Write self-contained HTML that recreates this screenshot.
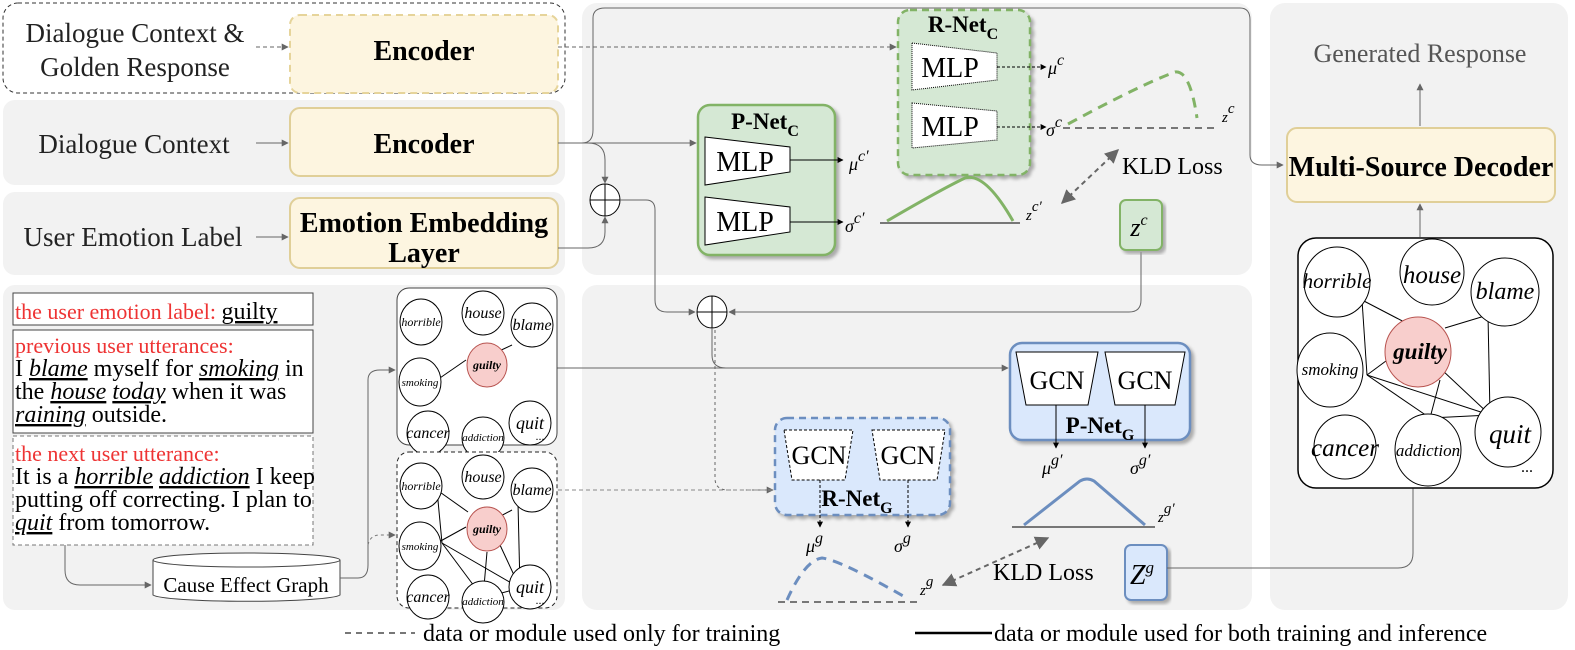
<!DOCTYPE html>
<html><head><meta charset="utf-8"><style>
body{margin:0;background:#fff}
svg{display:block}
</style></head><body>
<svg width="1575" height="650" viewBox="0 0 1575 650" xmlns="http://www.w3.org/2000/svg" font-family="'Liberation Serif', 'DejaVu Serif', serif">
<defs>
<marker id="a" viewBox="0 0 10 10" refX="9" refY="5" markerWidth="7" markerHeight="7" orient="auto-start-reverse"><path d="M0,0L10,5L0,10z" fill="#666"/></marker>
<marker id="k" viewBox="0 0 10 10" refX="9" refY="5" markerWidth="6" markerHeight="6" orient="auto"><path d="M0,0L10,5L0,10z" fill="#000"/></marker>
<filter id="sh"><feDropShadow dx="3" dy="3" stdDeviation="1.5" flood-color="#999" flood-opacity="0.8"/></filter>
</defs>
<rect x="3" y="3" width="562" height="90" rx="15" fill="#fff" stroke="#333" stroke-dasharray="4,3"/>
<rect x="3" y="100" width="562" height="85" rx="12" fill="#f2f2f2"/>
<rect x="3" y="192" width="562" height="83" rx="12" fill="#f2f2f2"/>
<rect x="3" y="285" width="562" height="325" rx="12" fill="#f2f2f2"/>
<rect x="582" y="3" width="670" height="272" rx="15" fill="#f2f2f2"/>
<rect x="582" y="285" width="670" height="325" rx="15" fill="#f2f2f2"/>
<rect x="1270" y="3" width="298" height="607" rx="15" fill="#f2f2f2"/>

<g font-size="27" fill="#222" text-anchor="middle">
<text x="135" y="42">Dialogue Context &amp;</text>
<text x="135" y="76">Golden Response</text>
<text x="134" y="153">Dialogue Context</text>
<text x="133" y="246">User Emotion Label</text>
</g>
<line x1="256" y1="47" x2="288" y2="47" stroke="#666" stroke-dasharray="4,3" marker-end="url(#a)"/>
<line x1="256" y1="143" x2="288" y2="143" stroke="#666" marker-end="url(#a)"/>
<line x1="256" y1="237" x2="288" y2="237" stroke="#666" marker-end="url(#a)"/>
<rect x="290" y="15" width="268" height="78" rx="10" fill="#fdf5e0" stroke="#e6d49a" stroke-width="2" stroke-dasharray="7,5"/>
<rect x="290" y="108" width="268" height="68" rx="10" fill="#fdf5e0" stroke="#e0cf98" stroke-width="2"/>
<rect x="290" y="198" width="268" height="70" rx="10" fill="#fdf5e0" stroke="#e0cf98" stroke-width="2"/>
<g font-size="28" font-weight="bold" text-anchor="middle">
<text x="424" y="60">Encoder</text>
<text x="424" y="153">Encoder</text>
<text x="424" y="232">Emotion Embedding</text>
<text x="424" y="262">Layer</text>
</g>

<line x1="558" y1="47" x2="896" y2="47" stroke="#666" stroke-dasharray="4,3" marker-end="url(#a)"/>
<path d="M558,143 H582 Q593,143 593,130 V18 Q593,8 605,8 H1240 Q1250,8 1250,20 V155 Q1250,165 1262,165 H1283" fill="none" stroke="#666" marker-end="url(#a)"/>
<path d="M558,143 H696" fill="none" stroke="#666" marker-end="url(#a)"/>
<path d="M588,143 Q605,143 605,160 V183" fill="none" stroke="#666" marker-end="url(#a)"/>
<path d="M558,248 H588 Q605,248 605,232 V217" fill="none" stroke="#666" marker-end="url(#a)"/>
<ellipse cx="605" cy="200" rx="15" ry="16" fill="#fff" stroke="#000"/>
<line x1="590" y1="200" x2="620" y2="200" stroke="#000"/><line x1="605" y1="184" x2="605" y2="216" stroke="#000"/>
<path d="M620,200 H646 Q655,200 655,210 V300 Q655,312 667,312 H695" fill="none" stroke="#666" marker-end="url(#a)"/>
<path d="M1141,252 V300 Q1141,312 1129,312 H729" fill="none" stroke="#666" marker-end="url(#a)"/>
<ellipse cx="712" cy="312" rx="15" ry="16" fill="#fff" stroke="#000"/>
<line x1="697" y1="312" x2="727" y2="312" stroke="#000"/><line x1="712" y1="296" x2="712" y2="328" stroke="#000"/>
<path d="M712,328 V355 Q712,368 726,368" fill="none" stroke="#666"/>
<line x1="557" y1="368" x2="1008" y2="368" stroke="#666" marker-end="url(#a)"/>
<path d="M715,330 V478 Q715,490 728,490 H773" fill="none" stroke="#666" stroke-dasharray="3,3" marker-end="url(#a)"/>
<line x1="558" y1="490" x2="773" y2="490" stroke="#888" stroke-dasharray="4,3"/>

<!-- R-Net C -->
<rect x="898" y="10" width="132" height="165" rx="12" fill="#d5e8d4" stroke="#82b366" stroke-width="2.5" stroke-dasharray="7,5" filter="url(#sh)"/>
<text x="963" y="32" font-size="23" font-weight="bold" text-anchor="middle">R-Net<tspan font-size="16" dy="7">C</tspan></text>
<polygon points="912,43 997,53 997,80 912,90" fill="#fff" stroke="#000" stroke-dasharray="1,1"/>
<polygon points="912,103 997,111 997,140 912,148" fill="#fff" stroke="#000" stroke-dasharray="1,1"/>
<g font-size="28" text-anchor="middle"><text x="950" y="77">MLP</text><text x="950" y="136">MLP</text></g>
<line x1="997" y1="67" x2="1046" y2="67" stroke="#000" stroke-dasharray="3,2" marker-end="url(#k)"/>
<line x1="997" y1="127" x2="1046" y2="127" stroke="#000" stroke-dasharray="3,2" marker-end="url(#k)"/>
<text x="1048" y="74" font-size="18" font-style="italic">μ<tspan font-size="16" dy="-9">c</tspan></text>
<text x="1046" y="136" font-size="18" font-style="italic">σ<tspan font-size="16" dy="-9">c</tspan></text>
<line x1="1063" y1="128" x2="1215" y2="128" stroke="#777" stroke-width="2" stroke-dasharray="7,5"/>
<path d="M1068,124 Q1140,85 1175,72 Q1190,70 1197,118" fill="none" stroke="#82b366" stroke-width="3" stroke-dasharray="10,7"/>
<text x="1222" y="122" font-size="15" font-style="italic">z<tspan font-size="15" dy="-9">c</tspan></text>

<!-- P-Net C -->
<rect x="698" y="105" width="137" height="150" rx="12" fill="#d5e8d4" stroke="#82b366" stroke-width="2.5" filter="url(#sh)"/>
<text x="765" y="129" font-size="23" font-weight="bold" text-anchor="middle">P-Net<tspan font-size="16" dy="7">C</tspan></text>
<polygon points="705,137 790,147 790,172 705,185" fill="#fff" stroke="#000"/>
<polygon points="705,197 790,207 790,232 705,245" fill="#fff" stroke="#000"/>
<g font-size="28" text-anchor="middle"><text x="745" y="171">MLP</text><text x="745" y="231">MLP</text></g>
<line x1="790" y1="160" x2="843" y2="160" stroke="#000" marker-end="url(#k)"/>
<line x1="790" y1="222" x2="843" y2="222" stroke="#000" marker-end="url(#k)"/>
<text x="849" y="170" font-size="18" font-style="italic">μ<tspan font-size="16" dy="-9">c′</tspan></text>
<text x="845" y="232" font-size="18" font-style="italic">σ<tspan font-size="16" dy="-9">c′</tspan></text>
<line x1="880" y1="223" x2="1020" y2="223" stroke="#777" stroke-width="2"/>
<path d="M887,221 Q940,190 965,178 Q985,172 1013,221" fill="none" stroke="#82b366" stroke-width="3"/>
<text x="1026" y="220" font-size="15" font-style="italic">z<tspan font-size="15" dy="-9">c′</tspan></text>
<line x1="1062" y1="203" x2="1118" y2="150" stroke="#666" stroke-width="2" stroke-dasharray="5,4" marker-start="url(#a)" marker-end="url(#a)"/>
<text x="1122" y="174" font-size="24">KLD Loss</text>
<rect x="1120" y="200" width="42" height="50" rx="6" fill="#d5e8d4" stroke="#82b366" stroke-width="2" filter="url(#sh)"/>
<text x="1139" y="236" font-size="26" font-style="italic" text-anchor="middle">z<tspan font-size="16" dy="-11">c</tspan></text>

<!-- P-Net G -->
<rect x="1010" y="343" width="180" height="97" rx="12" fill="#dae8fc" stroke="#6c8ebf" stroke-width="2.5" filter="url(#sh)"/>
<polygon points="1016,352 1098,352 1088,405 1026,405" fill="#fff" stroke="#000"/>
<polygon points="1105,352 1185,352 1175,405 1115,405" fill="#fff" stroke="#000"/>
<g font-size="26" text-anchor="middle"><text x="1057" y="389">GCN</text><text x="1145" y="389">GCN</text></g>
<text x="1100" y="433" font-size="23" font-weight="bold" text-anchor="middle">P-Net<tspan font-size="16" dy="7">G</tspan></text>
<line x1="1056" y1="405" x2="1056" y2="448" stroke="#000" marker-end="url(#k)"/>
<line x1="1145" y1="405" x2="1145" y2="448" stroke="#000" marker-end="url(#k)"/>
<text x="1042" y="474" font-size="18" font-style="italic">μ<tspan font-size="16" dy="-9">g′</tspan></text>
<text x="1130" y="474" font-size="18" font-style="italic">σ<tspan font-size="16" dy="-9">g′</tspan></text>
<line x1="1012" y1="527" x2="1155" y2="527" stroke="#777" stroke-width="2"/>
<path d="M1024,525 L1080,481 Q1087,477 1094,481 L1145,525" fill="none" stroke="#6c8ebf" stroke-width="3"/>
<text x="1158" y="522" font-size="15" font-style="italic">z<tspan font-size="15" dy="-9">g′</tspan></text>

<!-- R-Net G -->
<rect x="775" y="418" width="175" height="97" rx="12" fill="#dae8fc" stroke="#6c8ebf" stroke-width="2.5" stroke-dasharray="7,5" filter="url(#sh)"/>
<polygon points="784,430 853,430 845,480 792,480" fill="#fff" stroke="#000" stroke-dasharray="3,2"/>
<polygon points="872,430 945,430 937,480 880,480" fill="#fff" stroke="#000" stroke-dasharray="3,2"/>
<g font-size="26" text-anchor="middle"><text x="819" y="464">GCN</text><text x="908" y="464">GCN</text></g>
<text x="857" y="506" font-size="23" font-weight="bold" text-anchor="middle">R-Net<tspan font-size="16" dy="7">G</tspan></text>
<line x1="820" y1="480" x2="820" y2="527" stroke="#000" stroke-dasharray="3,2" marker-end="url(#k)"/>
<line x1="908" y1="480" x2="908" y2="527" stroke="#000" stroke-dasharray="3,2" marker-end="url(#k)"/>
<text x="806" y="552" font-size="18" font-style="italic">μ<tspan font-size="16" dy="-9">g</tspan></text>
<text x="894" y="552" font-size="18" font-style="italic">σ<tspan font-size="16" dy="-9">g</tspan></text>
<line x1="778" y1="602" x2="918" y2="602" stroke="#777" stroke-width="2" stroke-dasharray="7,5"/>
<path d="M787,600 Q805,560 822,558 Q840,560 905,597" fill="none" stroke="#6c8ebf" stroke-width="3" stroke-dasharray="10,7"/>
<text x="920" y="595" font-size="15" font-style="italic">z<tspan font-size="15" dy="-9">g</tspan></text>
<line x1="943" y1="585" x2="1048" y2="538" stroke="#666" stroke-width="2" stroke-dasharray="5,4" marker-start="url(#a)" marker-end="url(#a)"/>
<text x="993" y="580" font-size="24">KLD Loss</text>
<rect x="1125" y="545" width="42" height="55" rx="6" fill="#dae8fc" stroke="#6c8ebf" stroke-width="2" filter="url(#sh)"/>
<text x="1142" y="584" font-size="28" font-style="italic" text-anchor="middle">Z<tspan font-size="17" dy="-11">g</tspan></text>
<path d="M1167,568 H1398 Q1413,568 1413,553 V473" fill="none" stroke="#666" marker-end="url(#a)"/>

<!-- right panel -->
<text x="1420" y="62" font-size="26" fill="#555" text-anchor="middle">Generated Response</text>
<line x1="1420" y1="126" x2="1420" y2="84" stroke="#666" marker-end="url(#a)"/>
<rect x="1287" y="128" width="268" height="74" rx="10" fill="#fdf5e0" stroke="#e0cf98" stroke-width="2"/>
<text x="1421" y="176" font-size="28" font-weight="bold" text-anchor="middle">Multi-Source Decoder</text>
<line x1="1420" y1="237" x2="1420" y2="204" stroke="#666" marker-end="url(#a)"/>
<rect x="1298" y="238" width="255" height="250" rx="18" fill="#fff" stroke="#000" stroke-width="1.5"/>
<g stroke="#000" fill="none">
<line x1="1362" y1="300" x2="1410" y2="325"/><line x1="1362" y1="300" x2="1367" y2="375"/>
<line x1="1367" y1="375" x2="1390" y2="358"/><line x1="1367" y1="375" x2="1490" y2="415"/>
<line x1="1367" y1="375" x2="1430" y2="418"/><line x1="1430" y1="418" x2="1440" y2="380"/>
<line x1="1430" y1="418" x2="1490" y2="415"/><line x1="1442" y1="370" x2="1490" y2="415"/>
<line x1="1445" y1="328" x2="1488" y2="315"/><line x1="1488" y1="315" x2="1490" y2="415"/>
</g>
<g stroke="#000" fill="#fff">
<ellipse cx="1337" cy="282" rx="33" ry="35"/><ellipse cx="1432" cy="272" rx="32" ry="33"/>
<ellipse cx="1505" cy="292" rx="34" ry="34"/><ellipse cx="1330" cy="370" rx="33" ry="37"/>
<ellipse cx="1345" cy="447" rx="31" ry="32"/><ellipse cx="1428" cy="450" rx="33" ry="36"/>
<ellipse cx="1508" cy="432" rx="33" ry="35"/>
<ellipse cx="1418" cy="352" rx="33" ry="35" fill="#f8cecc" stroke="#b85450"/>
</g>
<g font-style="italic" text-anchor="middle">
<text x="1337" y="288" font-size="21">horrible</text><text x="1432" y="283" font-size="25">house</text>
<text x="1505" y="299" font-size="24">blame</text><text x="1330" y="375" font-size="17">smoking</text>
<text x="1345" y="456" font-size="25">cancer</text><text x="1428" y="456" font-size="17">addiction</text>
<text x="1510" y="443" font-size="27">quit</text><text x="1420" y="359" font-size="23" font-weight="bold">guilty</text>
<text x="1527" y="472" font-size="16" font-style="normal">...</text>
</g>

<!-- left bottom text boxes -->
<rect x="13" y="293" width="300" height="32" fill="#fff" stroke="#444"/>
<rect x="13" y="330" width="300" height="103" fill="#fff" stroke="#444"/>
<rect x="13" y="436" width="300" height="109" fill="#fff" stroke="#777" stroke-dasharray="4,3"/>
<g font-size="24">
<text x="15" y="319"><tspan fill="#e33" font-size="22">the user emotion label: </tspan><tspan text-decoration="underline">guilty</tspan></text>
<text x="15" y="353" fill="#e33" font-size="22">previous user utterances:</text>
<text x="15" y="376">I <tspan font-style="italic" text-decoration="underline">blame</tspan> myself for <tspan font-style="italic" text-decoration="underline">smoking</tspan> in</text>
<text x="15" y="399">the <tspan font-style="italic" text-decoration="underline">house</tspan> <tspan font-style="italic" text-decoration="underline">today</tspan> when it was</text>
<text x="15" y="422"><tspan font-style="italic" text-decoration="underline">raining</tspan> outside.</text>
<text x="15" y="461" fill="#e33" font-size="22">the next user utterance:</text>
<text x="15" y="484">It is a <tspan font-style="italic" text-decoration="underline">horrible</tspan> <tspan font-style="italic" text-decoration="underline">addiction</tspan> I keep</text>
<text x="15" y="507">putting off correcting. I plan to</text>
<text x="15" y="530"><tspan font-style="italic" text-decoration="underline">quit</tspan> from tomorrow.</text>
</g>
<path d="M65,545 V570 Q65,585 80,585 H151" fill="none" stroke="#666" marker-end="url(#a)"/>
<path d="M153,560 V595 A94,7 0 0 0 340,595 V560" fill="#fff" stroke="#444"/>
<ellipse cx="246.5" cy="560" rx="93.5" ry="7" fill="#fff" stroke="#444"/>
<text x="246" y="592" font-size="21" text-anchor="middle">Cause Effect Graph</text>
<path d="M340,578 H358 Q368,578 368,565 V380 Q368,370 380,370 H395" fill="none" stroke="#666" marker-end="url(#a)"/>
<path d="M368,545 Q370,535 380,535 H395" fill="none" stroke="#777" stroke-dasharray="3,3" marker-end="url(#a)"/>

<rect x="397" y="288" width="160" height="157" rx="12" fill="#fff" stroke="#444"/>
<g stroke="#000"><line x1="437" y1="380" x2="466" y2="360"/><line x1="497" y1="352" x2="512" y2="345"/></g>
<g stroke="#000" fill="#fff">
<ellipse cx="421" cy="322" rx="21" ry="23"/><ellipse cx="483" cy="313" rx="21" ry="22"/>
<ellipse cx="532" cy="325" rx="21" ry="22"/><ellipse cx="420" cy="382" rx="21" ry="24"/>
<ellipse cx="428" cy="433" rx="21" ry="22"/><ellipse cx="483" cy="438" rx="21" ry="21"/>
<ellipse cx="530" cy="423" rx="21" ry="22"/>
<ellipse cx="487" cy="365" rx="20" ry="22" fill="#f8cecc" stroke="#b85450"/>
</g>
<rect x="397" y="452" width="160" height="156" rx="12" fill="#fff" stroke="#222" stroke-dasharray="4,3"/>
<g stroke="#000">
<line x1="437" y1="543" x2="466" y2="527"/><line x1="497" y1="518" x2="512" y2="510"/>
<line x1="437" y1="490" x2="468" y2="512"/><line x1="437" y1="490" x2="442" y2="543"/>
<line x1="442" y1="543" x2="520" y2="588"/><line x1="442" y1="543" x2="483" y2="598"/>
<line x1="483" y1="598" x2="520" y2="588"/><line x1="483" y1="598" x2="487" y2="552"/>
<line x1="500" y1="545" x2="520" y2="588"/><line x1="518" y1="503" x2="520" y2="588"/>
</g>
<g stroke="#000" fill="#fff">
<ellipse cx="421" cy="486" rx="21" ry="23"/><ellipse cx="483" cy="477" rx="21" ry="22"/>
<ellipse cx="532" cy="490" rx="21" ry="22"/><ellipse cx="420" cy="546" rx="21" ry="24"/>
<ellipse cx="428" cy="597" rx="21" ry="22"/><ellipse cx="483" cy="602" rx="21" ry="21"/>
<ellipse cx="530" cy="587" rx="21" ry="22"/>
<ellipse cx="487" cy="529" rx="20" ry="22" fill="#f8cecc" stroke="#b85450"/>
</g>
<g font-style="italic" text-anchor="middle">
<text x="421" y="326" font-size="12">horrible</text><text x="483" y="318" font-size="16">house</text>
<text x="532" y="330" font-size="16">blame</text><text x="420" y="386" font-size="11">smoking</text>
<text x="428" y="438" font-size="16">cancer</text><text x="483" y="441" font-size="11">addiction</text>
<text x="530" y="429" font-size="18">quit</text><text x="487" y="369" font-size="12" font-weight="bold">guilty</text>
<text x="540" y="440" font-size="12" font-style="normal">...</text>
<text x="421" y="490" font-size="12">horrible</text><text x="483" y="482" font-size="16">house</text>
<text x="532" y="495" font-size="16">blame</text><text x="420" y="550" font-size="11">smoking</text>
<text x="428" y="602" font-size="16">cancer</text><text x="483" y="605" font-size="11">addiction</text>
<text x="530" y="593" font-size="18">quit</text><text x="487" y="533" font-size="12" font-weight="bold">guilty</text>
<text x="540" y="604" font-size="12" font-style="normal">...</text>
</g>

<line x1="345" y1="633" x2="415" y2="633" stroke="#777" stroke-width="2" stroke-dasharray="6,5"/>
<text x="423" y="641" font-size="24">data or module used only for training</text>
<line x1="915" y1="633" x2="992" y2="633" stroke="#000" stroke-width="2.5"/>
<text x="994" y="641" font-size="24">data or module used for both training and inference</text>
</svg>
</body></html>
